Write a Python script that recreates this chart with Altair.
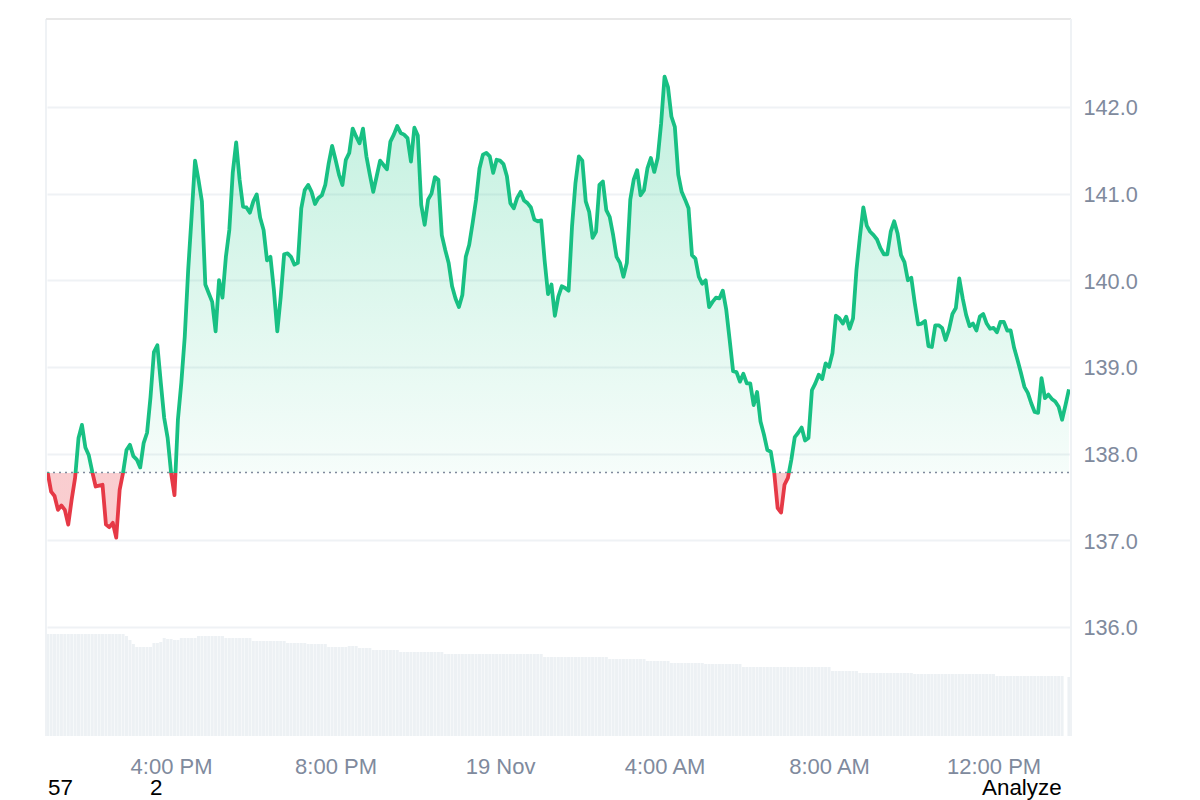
import altair as alt
import pandas as pd

# price every 5 minutes, starting 1:00 PM
prices = [
    137.78, 137.56, 137.51, 137.35, 137.40, 137.35, 137.18, 137.47, 137.72, 138.18,
    138.33, 138.07, 137.98, 137.79, 137.62, 137.63, 137.64, 137.18, 137.15, 137.20,
    137.03, 137.58, 137.78, 138.04, 138.10, 137.97, 137.93, 137.84, 138.12, 138.24,
    138.65, 139.17, 139.25, 138.82, 138.41, 138.18, 137.78, 137.52, 138.39, 138.82,
    139.35, 140.12, 140.74, 141.38, 141.16, 140.91, 139.95, 139.85, 139.75, 139.41,
    140.00, 139.80, 140.27, 140.58, 141.24, 141.59, 141.16, 140.85, 140.84, 140.78,
    140.91, 140.99, 140.72, 140.58, 140.23, 140.27, 139.89, 139.41, 139.81, 140.30,
    140.31, 140.27, 140.18, 140.20, 140.83, 141.04, 141.10, 141.02, 140.88, 140.95,
    140.98, 141.10, 141.35, 141.55, 141.39, 141.22, 141.10, 141.39, 141.47, 141.75,
    141.66, 141.58, 141.75, 141.43, 141.22, 141.02, 141.20, 141.38, 141.33, 141.28,
    141.60, 141.68, 141.78, 141.70, 141.68, 141.64, 141.37, 141.76, 141.67, 140.87,
    140.64, 140.93, 141.00, 141.19, 141.16, 140.52, 140.35, 140.20, 139.93, 139.79,
    139.69, 139.83, 140.27, 140.41, 140.66, 140.93, 141.29, 141.45, 141.47, 141.43,
    141.24, 141.39, 141.38, 141.34, 141.20, 140.89, 140.83, 140.95, 141.02, 140.92,
    140.89, 140.84, 140.70, 140.68, 140.69, 140.23, 139.84, 139.95, 139.59, 139.81,
    139.93, 139.91, 139.88, 140.62, 141.12, 141.43, 141.38, 140.91, 140.79, 140.49,
    140.56, 141.10, 141.14, 140.81, 140.73, 140.52, 140.27, 140.20, 140.04, 140.20,
    140.93, 141.16, 141.27, 140.98, 141.04, 141.29, 141.41, 141.25, 141.41, 141.81,
    142.35, 142.23, 141.89, 141.77, 141.22, 141.02, 140.93, 140.83, 140.29, 140.25,
    140.04, 139.96, 140.00, 139.69, 139.75, 139.80, 139.79, 139.88, 139.66, 139.31,
    138.95, 138.94, 138.83, 138.92, 138.81, 138.81, 138.56, 138.71, 138.37, 138.22,
    138.04, 138.02, 137.78, 137.37, 137.32, 137.64, 137.72, 137.93, 138.19, 138.24,
    138.30, 138.15, 138.18, 138.73, 138.81, 138.91, 138.86, 139.04, 139.00, 139.16,
    139.59, 139.56, 139.50, 139.58, 139.44, 139.56, 140.12, 140.50, 140.84, 140.63,
    140.56, 140.52, 140.47, 140.37, 140.30, 140.30, 140.56, 140.68, 140.54, 140.29,
    140.21, 140.00, 140.03, 139.74, 139.49, 139.50, 139.53, 139.24, 139.23, 139.48,
    139.48, 139.45, 139.31, 139.43, 139.61, 139.68, 140.02, 139.79, 139.60, 139.47,
    139.50, 139.42, 139.58, 139.61, 139.50, 139.44, 139.45, 139.40, 139.52, 139.52,
    139.42, 139.42, 139.22, 139.08, 138.93, 138.77, 138.70, 138.58, 138.48, 138.47,
    138.87, 138.64, 138.68, 138.63, 138.60, 138.54, 138.39, 138.56, 138.74,
]

# volume bars, same 5 minute steps (no scale shown in the picture, arbitrary units)
volumes = [
    1.02, 1.02, 1.02, 1.02, 1.02, 1.02, 1.02, 1.02, 1.02, 1.02,
    1.02, 1.02, 1.02, 1.02, 1.02, 1.02, 1.02, 1.02, 1.02, 1.02,
    1.02, 1.02, 1.02, 1.00, 0.96, 0.92, 0.89, 0.89, 0.89, 0.89,
    0.89, 0.93, 0.93, 0.94, 0.98, 0.97, 0.97, 0.96, 0.96, 0.98,
    0.98, 0.98, 0.98, 0.98, 1.00, 1.00, 1.00, 1.00, 1.00, 1.00,
    1.00, 1.00, 0.98, 0.98, 0.98, 0.98, 0.98, 0.98, 0.98, 0.98,
    0.95, 0.95, 0.95, 0.95, 0.95, 0.95, 0.95, 0.95, 0.95, 0.95,
    0.93, 0.93, 0.93, 0.93, 0.93, 0.93, 0.92, 0.92, 0.92, 0.92,
    0.92, 0.92, 0.89, 0.89, 0.89, 0.89, 0.89, 0.89, 0.90, 0.90,
    0.90, 0.88, 0.88, 0.88, 0.88, 0.86, 0.86, 0.86, 0.86, 0.86,
    0.86, 0.86, 0.86, 0.84, 0.84, 0.84, 0.84, 0.84, 0.84, 0.84,
    0.84, 0.84, 0.84, 0.84, 0.84, 0.84, 0.82, 0.82, 0.82, 0.82,
    0.82, 0.82, 0.82, 0.82, 0.82, 0.82, 0.82, 0.82, 0.82, 0.82,
    0.82, 0.82, 0.82, 0.82, 0.82, 0.82, 0.82, 0.82, 0.82, 0.82,
    0.82, 0.82, 0.82, 0.82, 0.82, 0.79, 0.79, 0.79, 0.79, 0.79,
    0.79, 0.79, 0.79, 0.79, 0.79, 0.79, 0.79, 0.79, 0.79, 0.79,
    0.79, 0.79, 0.79, 0.79, 0.77, 0.77, 0.77, 0.77, 0.77, 0.77,
    0.77, 0.77, 0.77, 0.77, 0.77, 0.75, 0.75, 0.75, 0.75, 0.75,
    0.75, 0.75, 0.73, 0.73, 0.73, 0.73, 0.73, 0.73, 0.73, 0.73,
    0.73, 0.73, 0.72, 0.72, 0.72, 0.72, 0.72, 0.72, 0.72, 0.72,
    0.72, 0.72, 0.72, 0.69, 0.69, 0.69, 0.69, 0.69, 0.69, 0.69,
    0.69, 0.69, 0.69, 0.69, 0.69, 0.69, 0.69, 0.69, 0.69, 0.69,
    0.69, 0.69, 0.69, 0.69, 0.69, 0.69, 0.69, 0.69, 0.69, 0.65,
    0.65, 0.65, 0.65, 0.65, 0.65, 0.65, 0.65, 0.63, 0.63, 0.63,
    0.63, 0.63, 0.63, 0.63, 0.63, 0.63, 0.63, 0.63, 0.63, 0.63,
    0.63, 0.63, 0.63, 0.62, 0.62, 0.62, 0.62, 0.62, 0.62, 0.62,
    0.62, 0.62, 0.62, 0.62, 0.62, 0.62, 0.62, 0.62, 0.62, 0.62,
    0.62, 0.62, 0.62, 0.62, 0.62, 0.62, 0.62, 0.60, 0.60, 0.60,
    0.60, 0.60, 0.60, 0.60, 0.60, 0.60, 0.60, 0.60, 0.60, 0.60,
    0.60, 0.60, 0.60, 0.60, 0.60, 0.60, 0.60, 0.00, 0.59,
]

baseline = 137.78
price_ticks = [136, 137, 138, 139, 140, 141, 142]
time_ticks = [180, 420, 660, 900, 1140, 1380]
time_labels = ["4:00 PM", "8:00 PM", "19 Nov", "4:00 AM", "8:00 AM", "12:00 PM"]

GREEN = "#18c083"
RED = "#e63946"
BORDER = "#eff2f5"
GREY = "#808a9d"
FONT = "Liberation Sans"

source = pd.DataFrame({"minute": [i * 5 for i in range(len(prices))], "price": prices})
source["baseline"] = baseline
bars = pd.DataFrame({"minute": [i * 5 for i in range(len(volumes))], "volume": volumes})
one_row = pd.DataFrame({"t": [0]})

x_scale = alt.Scale(domain=[-1, 1493], nice=False, padding=0)
price_scale = alt.Scale(domain=[134.74, 143.015], nice=False, zero=False)

x_axis = alt.Axis(
    values=time_ticks, title=None, grid=False, domain=False, ticks=False,
    labelExpr=f"{time_labels}[indexof({time_ticks}, datum.value)]",
    labelFontSize=22, labelColor=GREY, labelFont=FONT, labelPadding=20,
)

# where the baseline falls inside the bounding box of the line and the area
split = (max(prices) - baseline) / (max(prices) - min(prices))


def stops(*pairs):
    return [alt.GradientStop(color=c, offset=o) for c, o in pairs]


line_paint = alt.LinearGradient(
    gradient="linear", x1=0, y1=0, x2=0, y2=1,
    stops=stops((GREEN, 0), (GREEN, split), (RED, split), (RED, 1)),
)
area_paint = alt.LinearGradient(
    gradient="linear", x1=0, y1=0, x2=0, y2=1,
    stops=stops(
        ("rgba(22,199,132,0.27)", 0),
        ("rgba(22,199,132,0.04)", split),
        ("rgba(234,57,67,0.25)", split),
        ("rgba(234,57,67,0.25)", 1),
    ),
)

# volume
volume = alt.Chart(bars).mark_bar(size=3, color="#edf1f4").encode(
    x=alt.X("minute:Q", scale=x_scale, axis=x_axis),
    y=alt.Y("volume:Q", scale=alt.Scale(domain=[0, 7.17], nice=False), axis=None),
)

# area between the price and the baseline
area = alt.Chart(source).mark_area(fill=area_paint, orient="vertical").encode(
    x=alt.X("minute:Q", scale=x_scale, axis=x_axis),
    y=alt.Y(
        "price:Q",
        scale=price_scale,
        axis=alt.Axis(
            orient="right", values=price_ticks, format=".1f", title=None,
            domain=False, ticks=False, labelPadding=12, labelFontSize=21.7, labelOffset=1,
            labelColor=GREY, labelFont=FONT, grid=True, gridColor=BORDER, gridWidth=2,
        ),
    ),
    y2="baseline:Q",
)

# dotted opening price
dotted = alt.Chart(one_row).mark_rule(
    color=GREY, strokeWidth=1.5, strokeDash=[2, 4]
).encode(
    x=alt.value(0),
    x2=alt.value(1023),
    y=alt.Y(datum=baseline, scale=price_scale, axis=None),
)

# price line
line = alt.Chart(source).mark_line(
    stroke=line_paint, strokeWidth=3.8, strokeJoin="round"
).encode(
    x=alt.X("minute:Q", scale=x_scale, axis=x_axis),
    y=alt.Y("price:Q", scale=price_scale, axis=None),
)


def border(x, x2, y, y2, color=BORDER):
    return alt.Chart(one_row).mark_rule(color=color, strokeWidth=2).encode(
        x=alt.value(x), x2=alt.value(x2), y=alt.value(y), y2=alt.value(y2)
    )


def note(text, x):
    return alt.Chart(one_row).mark_text(
        align="left", baseline="alphabetic", font=FONT, fontSize=22.4, color="#000000"
    ).encode(x=alt.value(x), y=alt.value(776), text=alt.value(text))


chart = alt.layer(
    volume,
    area,
    dotted,
    line,
    border(-1, -1, 0, 717),
    border(-1, 1024, 0, 0, "#e8e8e8"),
    border(1024, 1024, 0, 717),
    note("57", 1),
    note("2", 103),
    note("Analyze", 935),
).resolve_scale(y="independent").properties(
    width=1024,
    height=717,
    autosize=alt.AutoSizeParams(type="none"),
    padding={"left": 39, "top": 11, "right": 121, "bottom": 64},
).configure_view(stroke=None)

chart.save("out.html", embed_options={"renderer": "svg", "actions": False})
